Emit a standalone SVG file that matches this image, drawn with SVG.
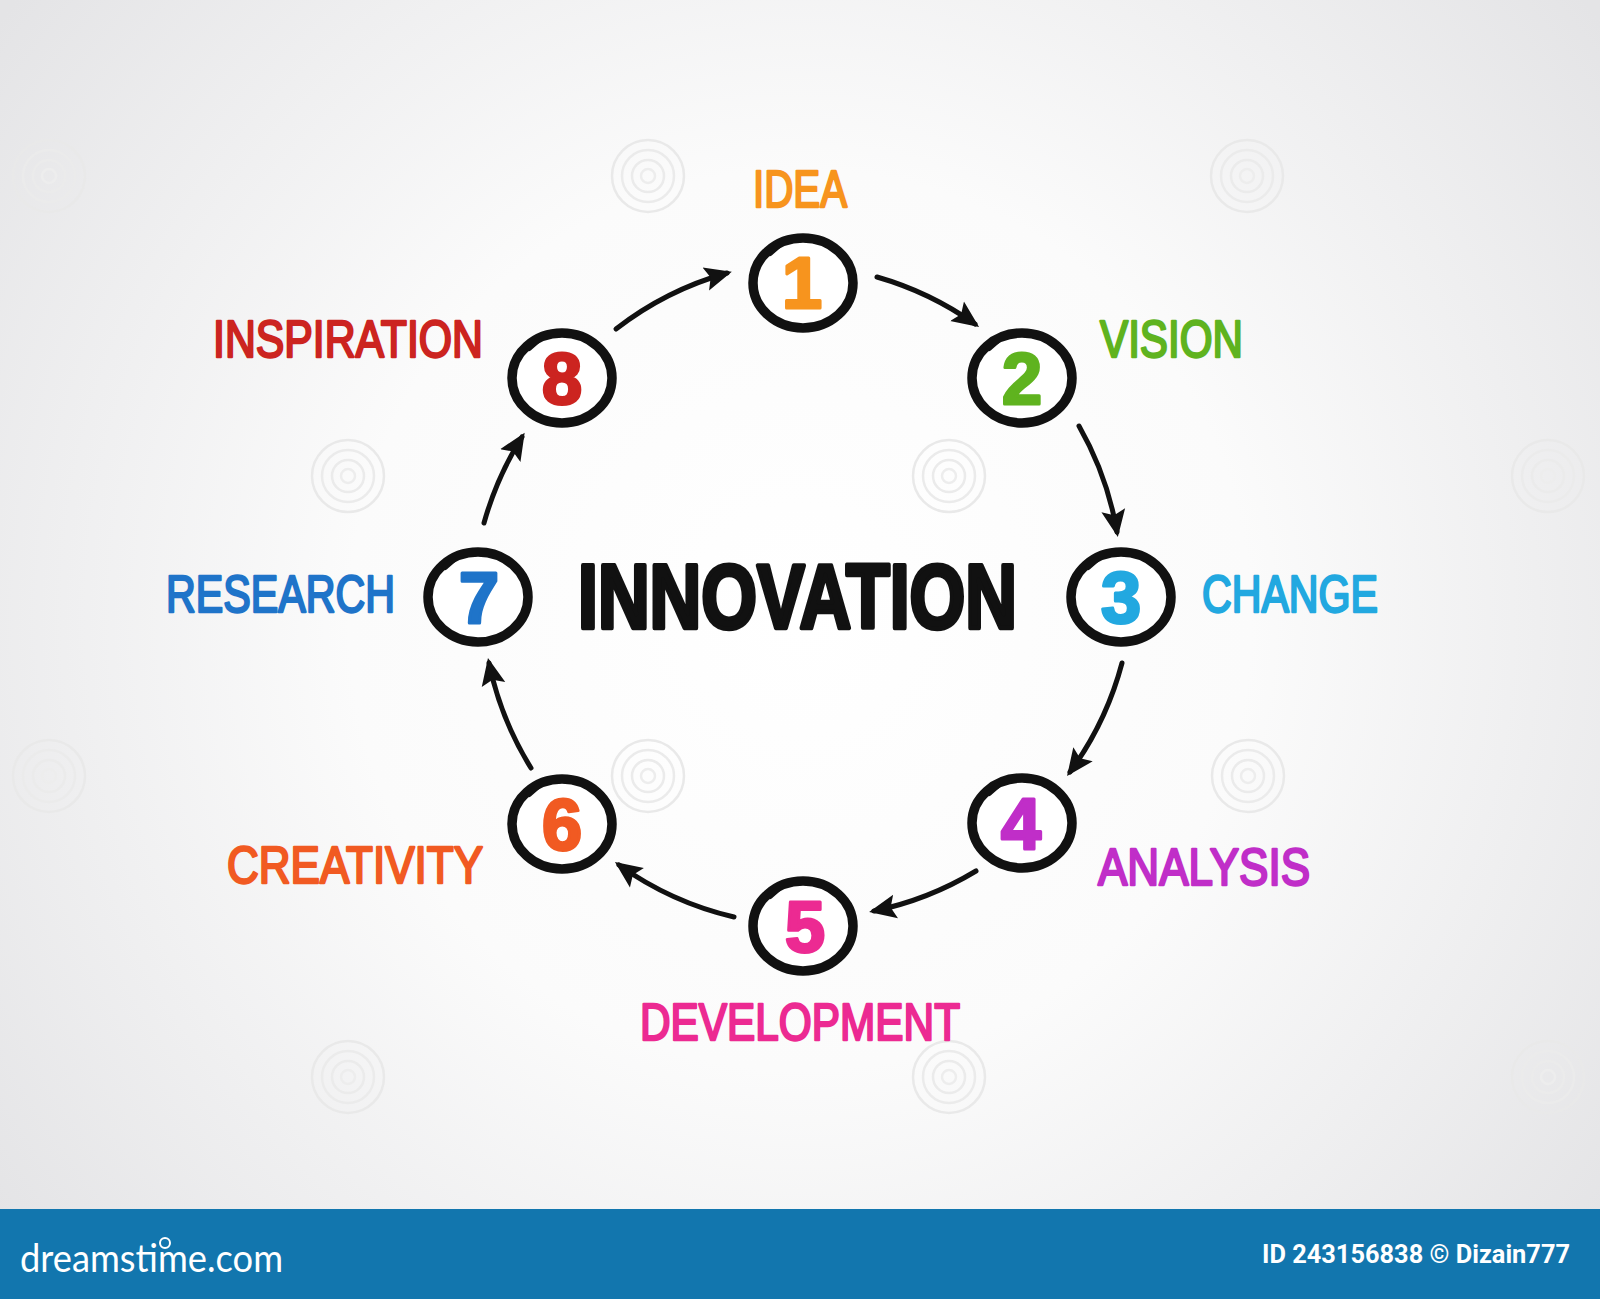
<svg xmlns="http://www.w3.org/2000/svg" width="1600" height="1299" viewBox="0 0 1600 1299">
<defs>
<radialGradient id="bg" cx="800" cy="620" r="1000" gradientUnits="userSpaceOnUse">
<stop offset="0" stop-color="#ffffff"/>
<stop offset="0.45" stop-color="#fbfbfb"/>
<stop offset="1" stop-color="#e4e4e6"/>
</radialGradient>
<marker id="arr" markerUnits="userSpaceOnUse" markerWidth="28" markerHeight="26" viewBox="0 0 28 26" refX="22" refY="13" orient="auto">
<path d="M0,1 L27,13 L0,25 L5,13 z" fill="#111"/>
</marker>
<g id="spiral">
<circle r="36" fill="none" stroke="#e9e9e9" stroke-width="2.5"/>
<circle r="26" fill="none" stroke="#ebebeb" stroke-width="2.5"/>
<circle r="16" fill="none" stroke="#ebebeb" stroke-width="2.5"/>
<circle r="7" fill="none" stroke="#ededed" stroke-width="2.5"/>
</g>
</defs>
<style>
.ring{fill:#fff;stroke:#111;stroke-width:9.5}
.tick{fill:none;stroke:#111;stroke-width:6;stroke-linecap:round}
.num{font-family:"Liberation Sans",Arial,sans-serif;font-weight:bold;font-size:72px;text-anchor:middle;stroke-width:3;stroke-linejoin:round}
.lbl{font-family:"Liberation Sans",Arial,sans-serif;font-size:51px;stroke-width:2.4;stroke-linejoin:round}
.conn{fill:none;stroke:#111;stroke-width:5;stroke-linecap:round}
</style>
<rect x="0" y="0" width="1600" height="1299" fill="url(#bg)"/>
<g id="watermark">
<use href="#spiral" x="49" y="176"/><use href="#spiral" x="648" y="176"/><use href="#spiral" x="1247" y="176"/>
<use href="#spiral" x="348" y="476"/><use href="#spiral" x="949" y="476"/><use href="#spiral" x="1548" y="476"/>
<use href="#spiral" x="49" y="776"/><use href="#spiral" x="648" y="776"/><use href="#spiral" x="1248" y="776"/>
<use href="#spiral" x="348" y="1077"/><use href="#spiral" x="949" y="1077"/><use href="#spiral" x="1548" y="1077"/>
</g>
<g id="connectors">
<path class="conn" marker-end="url(#arr)" d="M877,277 A325,325 0 0 1 975,324"/>
<path class="conn" marker-end="url(#arr)" d="M1079,426 A325,325 0 0 1 1117,532"/>
<path class="conn" marker-end="url(#arr)" d="M1122,663 A325,325 0 0 1 1070,772"/>
<path class="conn" marker-end="url(#arr)" d="M976,871 A325,325 0 0 1 874,911"/>
<path class="conn" marker-end="url(#arr)" d="M734,917 A325,325 0 0 1 619,865"/>
<path class="conn" marker-end="url(#arr)" d="M531,768 A325,325 0 0 1 489,663"/>
<path class="conn" marker-end="url(#arr)" d="M484,523 A325,325 0 0 1 522,437"/>
<path class="conn" marker-end="url(#arr)" d="M616,329 A325,325 0 0 1 727,273"/>
</g>
<g id="center">
<text transform="translate(578,628) scale(1,1.29)" x="0" y="0" textLength="439" lengthAdjust="spacingAndGlyphs" font-family="'Liberation Sans',Arial,sans-serif" font-weight="bold" font-size="70" fill="#111" stroke="#111" stroke-width="3.5" stroke-linejoin="round">INNOVATION</text>
</g>
<g id="node1">
<ellipse class="ring" cx="803" cy="283" rx="50" ry="45"/>
<path class="tick" d="M770,253 L778,246"/>
<text class="num" x="802" y="308" fill="#f7941e" stroke="#f7941e">1</text>
<text class="lbl" x="753" y="207" textLength="94" lengthAdjust="spacingAndGlyphs" fill="#f7941e" stroke="#f7941e">IDEA</text>
</g>
<g id="node2">
<ellipse class="ring" cx="1022" cy="378" rx="50" ry="45"/>
<path class="tick" d="M989,348 L997,341"/>
<text class="num" x="1022" y="404" fill="#5fb31f" stroke="#5fb31f">2</text>
<text class="lbl" x="1100" y="357" textLength="143" lengthAdjust="spacingAndGlyphs" fill="#5fb31f" stroke="#5fb31f">VISION</text>
</g>
<g id="node3">
<ellipse class="ring" cx="1121" cy="597" rx="50" ry="45"/>
<path class="tick" d="M1088,567 L1096,560"/>
<text class="num" x="1121" y="623" fill="#22a8e0" stroke="#22a8e0">3</text>
<text class="lbl" x="1202" y="612" textLength="176" lengthAdjust="spacingAndGlyphs" fill="#22a8e0" stroke="#22a8e0">CHANGE</text>
</g>
<g id="node4">
<ellipse class="ring" cx="1022" cy="823" rx="50" ry="45"/>
<path class="tick" d="M989,793 L997,786"/>
<text class="num" x="1021" y="849" fill="#c02ec8" stroke="#c02ec8">4</text>
<text class="lbl" x="1098" y="885" textLength="212" lengthAdjust="spacingAndGlyphs" fill="#c02ec8" stroke="#c02ec8">ANALYSIS</text>
</g>
<g id="node5">
<ellipse class="ring" cx="803" cy="926" rx="50" ry="45"/>
<path class="tick" d="M770,896 L778,889"/>
<text class="num" x="805" y="952" fill="#ec2a92" stroke="#ec2a92">5</text>
<text class="lbl" x="640" y="1040" textLength="320" lengthAdjust="spacingAndGlyphs" fill="#ec2a92" stroke="#ec2a92">DEVELOPMENT</text>
</g>
<g id="node6">
<ellipse class="ring" cx="562" cy="824" rx="50" ry="45"/>
<path class="tick" d="M529,794 L537,787"/>
<text class="num" x="562" y="850" fill="#f15a22" stroke="#f15a22">6</text>
<text class="lbl" x="227" y="883" textLength="256" lengthAdjust="spacingAndGlyphs" fill="#f15a22" stroke="#f15a22">CREATIVITY</text>
</g>
<g id="node7">
<ellipse class="ring" cx="478" cy="597" rx="50" ry="45"/>
<path class="tick" d="M445,567 L453,560"/>
<text class="num" x="479" y="623" fill="#1f74c9" stroke="#1f74c9">7</text>
<text class="lbl" x="166" y="612" textLength="229" lengthAdjust="spacingAndGlyphs" fill="#1f74c9" stroke="#1f74c9">RESEARCH</text>
</g>
<g id="node8">
<ellipse class="ring" cx="562" cy="378" rx="50" ry="45"/>
<path class="tick" d="M529,348 L537,341"/>
<text class="num" x="562" y="404" fill="#cc2420" stroke="#cc2420">8</text>
<text class="lbl" x="213" y="357" textLength="270" lengthAdjust="spacingAndGlyphs" fill="#cc2420" stroke="#cc2420">INSPIRATION</text>
</g>
<g id="footer">
<rect x="0" y="1209" width="1600" height="90" fill="#1276ae"/>
<text x="20" y="1272" textLength="263" lengthAdjust="spacingAndGlyphs" font-family="Lato,'Open Sans',sans-serif" font-size="38" fill="#fff">dreamstime.com</text>
<circle cx="165" cy="1243" r="5" fill="none" stroke="#fff" stroke-width="2"/>
<text x="1262" y="1263" textLength="308" lengthAdjust="spacingAndGlyphs" font-family="Roboto,'Liberation Sans',sans-serif" font-weight="bold" font-size="26" fill="#fff">ID 243156838 © Dizain777</text>
</g>
</svg>
